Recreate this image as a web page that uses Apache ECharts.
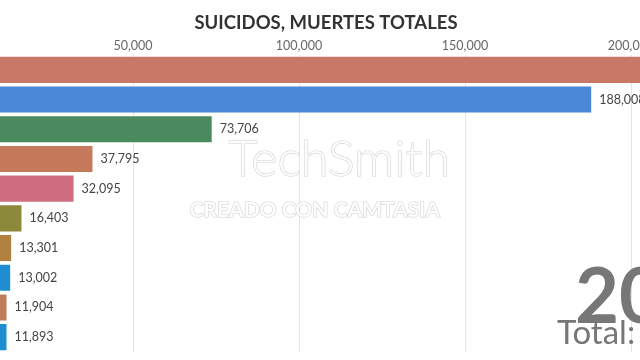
<!DOCTYPE html>
<html>
<head>
<meta charset="utf-8">
<script src="https://cdn.jsdelivr.net/npm/echarts@6/dist/echarts.min.js"></script>
<style>
html,body{margin:0;padding:0;background:#fff;overflow:hidden;}
#wrap{width:640px;height:360px;overflow:hidden;position:relative;}
#chart{width:673px;height:360px;position:absolute;left:-33px;top:0;}
</style>
</head>
<body>
<div id="wrap"><div id="chart"></div></div>
<script>
const categories = ['A','B','C','D','E','F','G','H','I','J'];
const values = [215000, 188008, 73706, 37795, 32095, 16403, 13301, 13002, 11904, 11893];
const colors = ['#C97766','#4A88D6','#4A8A5E','#C57B5B','#D06E80','#8C8A3A','#B0813F','#1E8DD2','#C07A5A','#1E8DD2'];
const xTicks = [0, 50000, 100000, 150000, 200000];
const titleText = 'SUICIDOS, MUERTES TOTALES';
const yearText = '2019';
const totalText = 'Total: 690,000';

const chart = echarts.init(document.getElementById('chart'));
const fmt = v => v.toLocaleString('en-US');
const OX = 33; // horizontal offset of the chart canvas
chart.setOption({
  animation: false,
  title: {
    text: titleText, left: 321 + OX, top: 9, textAlign: 'center',
    textStyle: {fontFamily: 'Lato', fontWeight: 'bold', fontSize: 18.5, color: '#333'}
  },
  grid: {left: 0, right: 9, top: 55, bottom: 8, outerBoundsMode: 'none', containLabel: false},
  xAxis: {
    type: 'value', position: 'top', min: xTicks[0], max: xTicks[xTicks.length-1], interval: 50000,
    axisLine: {show: false}, axisTick: {show: false},
    axisLabel: {fontFamily: 'Lato', fontSize: 12.5, color: '#666', margin: 3, hideOverlap: false, formatter: v => v === 0 ? '' : fmt(v)},
    splitLine: {lineStyle: {color: '#e4e4e4'}}
  },
  yAxis: {
    type: 'category', data: categories, inverse: true,
    axisLine: {show: false}, axisTick: {show: false}, axisLabel: {show: false}
  },
  series: [{
    type: 'bar', clip: false, barCategoryGap: '12%',
    data: values.map((v, i) => ({value: v, itemStyle: {color: colors[i]}})),
    label: {show: true, position: 'right', distance: 8, fontFamily: 'Lato', fontSize: 12.5, color: '#444', formatter: p => fmt(p.value)}
  }],
  graphic: [
    {type: 'text', left: 575 + OX, top: 260, z: 10, style: {text: yearText, font: 'bold 76px Lato', fill: '#777'}},
    {type: 'text', left: 557 + OX, top: 317, z: 10, style: {text: totalText, font: '33px Lato', fill: '#777'}},
    {type: 'text', left: 228 + OX, top: 134, z: 20, style: {text: 'TechSmith', font: '300 50px Lato', fill: 'rgba(255,255,255,0.9)', stroke: 'rgba(180,180,180,0.6)', lineWidth: 1.2}},
    {type: 'text', left: 189 + OX, top: 199, z: 20, style: {text: 'CREADO CON CAMTASIA', font: 'bold 21px Lato', fill: 'rgba(255,255,255,0.9)', stroke: 'rgba(180,180,180,0.6)', lineWidth: 1.2}}
  ]
});
</script>
</body>
</html>
